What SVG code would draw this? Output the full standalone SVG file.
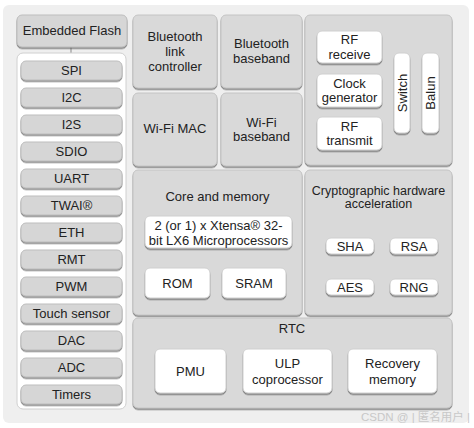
<svg xmlns="http://www.w3.org/2000/svg" width="474" height="428" viewBox="0 0 474 428">
<defs>
<filter id="sh" x="-10%" y="-10%" width="120%" height="130%">
<feDropShadow dx="0" dy="1.5" stdDeviation="0.6" flood-color="#555" flood-opacity="0.7"/>
</filter>
<style>
text{font-family:"Liberation Sans",Arial,sans-serif;font-size:13px;fill:#222;text-anchor:middle}
.blk{fill:#d9d9d9;stroke:#c4c4c4;stroke-width:1;filter:url(#sh)}
.pill{fill:#d6d6d6;stroke:#bdbdbd;stroke-width:1;filter:url(#sh)}
.wht{fill:#ffffff;stroke:#cfcfcf;stroke-width:1;filter:url(#sh)}
.sm{font-size:12.5px}
.wm{font-family:"Liberation Sans","Noto Sans CJK SC",sans-serif;font-size:11.5px;fill:#c8c8c8;text-anchor:end}
</style>
</defs>
<rect x="3" y="5" width="466" height="418" rx="6" fill="#efefef"/>

<g id="connectors">
<line x1="71" y1="47" x2="71" y2="61" stroke="#9a9a9a" stroke-width="1.2"/>
</g>

<g id="embedded-flash">
<rect class="pill" x="17" y="15" width="110" height="32" rx="5"/>
<text x="72" y="35">Embedded Flash</text>
</g>

<g id="peripherals">
<rect x="17" y="53" width="109" height="356" rx="6" fill="#fff" stroke="#d0d0d0"/>
<g id="spi"><rect class="pill" x="21" y="61" width="101" height="19" rx="5"/><text x="71.5" y="75">SPI</text></g>
<g id="i2c"><rect class="pill" x="21" y="88" width="101" height="19" rx="5"/><text x="71.5" y="102">I2C</text></g>
<g id="i2s"><rect class="pill" x="21" y="115" width="101" height="19" rx="5"/><text x="71.5" y="129">I2S</text></g>
<g id="sdio"><rect class="pill" x="21" y="142" width="101" height="19" rx="5"/><text x="71.5" y="156">SDIO</text></g>
<g id="uart"><rect class="pill" x="21" y="169" width="101" height="19" rx="5"/><text x="71.5" y="183">UART</text></g>
<g id="twai"><rect class="pill" x="21" y="196" width="101" height="19" rx="5"/><text x="71.5" y="210">TWAI®</text></g>
<g id="eth"><rect class="pill" x="21" y="223" width="101" height="19" rx="5"/><text x="71.5" y="237">ETH</text></g>
<g id="rmt"><rect class="pill" x="21" y="250" width="101" height="19" rx="5"/><text x="71.5" y="264">RMT</text></g>
<g id="pwm"><rect class="pill" x="21" y="277" width="101" height="19" rx="5"/><text x="71.5" y="291">PWM</text></g>
<g id="touch"><rect class="pill" x="21" y="304" width="101" height="19" rx="5"/><text x="71.5" y="318">Touch sensor</text></g>
<g id="dac"><rect class="pill" x="21" y="331" width="101" height="19" rx="5"/><text x="71.5" y="345">DAC</text></g>
<g id="adc"><rect class="pill" x="21" y="358" width="101" height="19" rx="5"/><text x="71.5" y="372">ADC</text></g>
<g id="timers"><rect class="pill" x="21" y="385" width="101" height="19" rx="5"/><text x="71.5" y="399">Timers</text></g>
</g>

<g id="bt-link">
<rect class="blk" x="133" y="15" width="84" height="73" rx="5"/>
<text x="175" y="41">Bluetooth</text><text x="175" y="56">link</text><text x="175" y="71">controller</text>
</g>
<g id="bt-baseband">
<rect class="blk" x="221" y="15" width="81" height="73" rx="5"/>
<text x="261.5" y="48">Bluetooth</text><text x="261.5" y="63">baseband</text>
</g>
<g id="wifi-mac">
<rect class="blk" x="133" y="93" width="84" height="73" rx="5"/>
<text x="175" y="133">Wi-Fi MAC</text>
</g>
<g id="wifi-baseband">
<rect class="blk" x="221" y="93" width="81" height="73" rx="5"/>
<text x="261.5" y="127">Wi-Fi</text><text x="261.5" y="141">baseband</text>
</g>

<g id="rf">
<rect class="blk" x="305" y="15" width="147" height="150" rx="5"/>
<g id="rf-receive"><rect class="wht" x="317" y="31" width="65" height="32" rx="5"/><text x="349.5" y="43.5">RF</text><text x="349.5" y="58.5">receive</text></g>
<g id="clock-gen"><rect class="wht" x="317" y="74" width="65" height="33" rx="5"/><text x="349.5" y="87.5">Clock</text><text x="349.5" y="101.5">generator</text></g>
<g id="rf-transmit"><rect class="wht" x="317" y="117" width="65" height="33" rx="5"/><text x="349.5" y="130.5">RF</text><text x="349.5" y="144.5">transmit</text></g>
<g id="switch"><rect class="wht" x="394" y="53" width="16" height="80" rx="5"/><text transform="translate(406.5 93) rotate(-90)" x="0" y="0">Switch</text></g>
<g id="balun"><rect class="wht" x="422" y="53" width="17" height="80" rx="5"/><text transform="translate(435 93) rotate(-90)" x="0" y="0">Balun</text></g>
</g>

<g id="core-memory">
<rect class="blk" x="133" y="170" width="169" height="145" rx="5"/>
<text x="217.5" y="200.5">Core and memory</text>
<g id="cpu"><rect class="wht" x="145" y="216" width="147" height="32" rx="5"/><text x="218.5" y="229.5">2 (or 1) x Xtensa® 32-</text><text x="218.5" y="244.5">bit LX6 Microprocessors</text></g>
<g id="rom"><rect class="wht" x="145" y="268" width="65" height="30" rx="5"/><text x="177.5" y="287.5">ROM</text></g>
<g id="sram"><rect class="wht" x="222" y="268" width="64" height="30" rx="5"/><text x="254" y="287.5">SRAM</text></g>
</g>

<g id="crypto">
<rect class="blk" x="305" y="170" width="147" height="145" rx="5"/>
<text class="sm" x="378.5" y="195">Cryptographic hardware</text><text class="sm" x="378.5" y="208">acceleration</text>
<g id="sha"><rect class="wht" x="326" y="238" width="48" height="16" rx="5"/><text x="350" y="250.5">SHA</text></g>
<g id="rsa"><rect class="wht" x="390" y="238" width="48" height="16" rx="5"/><text x="414" y="250.5">RSA</text></g>
<g id="aes"><rect class="wht" x="326" y="279" width="48" height="16" rx="5"/><text x="350" y="291.5">AES</text></g>
<g id="rng"><rect class="wht" x="390" y="279" width="48" height="16" rx="5"/><text x="414" y="291.5">RNG</text></g>
</g>

<g id="rtc">
<rect class="blk" x="133" y="318" width="319" height="90" rx="5"/>
<text x="292" y="332.5">RTC</text>
<g id="pmu"><rect class="wht" x="155" y="349" width="71" height="44" rx="5"/><text x="190.5" y="375.5">PMU</text></g>
<g id="ulp"><rect class="wht" x="243" y="349" width="89" height="44" rx="5"/><text x="287.5" y="367.5">ULP</text><text x="287.5" y="383.5">coprocessor</text></g>
<g id="recovery"><rect class="wht" x="348" y="349" width="89" height="44" rx="5"/><text x="392.5" y="367.5">Recovery</text><text x="392.5" y="383.5">memory</text></g>
</g>

<text class="wm" x="470" y="421">CSDN @ | 匿名用户 |</text>
</svg>
